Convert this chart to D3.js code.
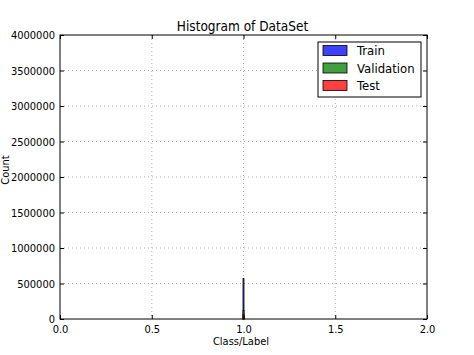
<!DOCTYPE html>
<html>
<head>
    <meta charset="utf-8">
    <title>Histogram of DataSet</title>
    <script src="https://d3js.org/d3.v7.min.js"></script>
    <style type="text/css">
        body { margin: 0; background: #fff; }
        text { font-family: "DejaVu Sans Condensed", "DejaVu Sans", sans-serif; fill: #000; }
        .grid line { stroke: #b0b0b0; stroke-dasharray: 1,3; }
    </style>
</head>
<body>
    <script type="text/javascript">
        // data
        let classes = [1.0];
        let trainCounts = [570000];
        let validationCounts = [120000];
        let testCounts = [60000];
        let xTicks = [0.0, 0.5, 1.0, 1.5, 2.0];
        let yTicks = [0, 500000, 1000000, 1500000, 2000000, 2500000, 3000000, 3500000, 4000000];
        let seriesNames = ["Train", "Validation", "Test"];
        let seriesColors = ["#4040ff", "#409f40", "#ff4040"];

        let W = 474, H = 355;
        let mLeft = 60, mRight = 427, mTop = 35, mBottom = 319;

        let svg = d3.select("body").append("svg")
            .attr("width", W)
            .attr("height", H);

        let x = d3.scaleLinear().domain([0, 2]).range([mLeft, mRight]);
        let y = d3.scaleLinear().domain([0, 4000000]).range([mBottom, mTop]);

        // grid
        let grid = svg.append("g").attr("class", "grid");
        grid.selectAll(".gx").data(xTicks.slice(1, -1)).enter().append("line")
            .attr("x1", d => x(d)).attr("x2", d => x(d))
            .attr("y1", mTop).attr("y2", mBottom);
        grid.selectAll(".gy").data(yTicks.slice(1, -1)).enter().append("line")
            .attr("x1", mLeft).attr("x2", mRight)
            .attr("y1", d => y(d)).attr("y2", d => y(d));

        // bars (very narrow bins, overlapping)
        let series = [trainCounts, validationCounts, testCounts];
        series.forEach((vals, i) => {
            svg.append("g").selectAll("rect").data(vals).enter().append("rect")
                .attr("x", (d, j) => x(classes[j]) - 0.5)
                .attr("width", 1)
                .attr("y", d => y(d))
                .attr("height", d => mBottom - y(d))
                .attr("fill", seriesColors[i])
                .attr("stroke", "#000")
                .attr("stroke-width", 0.8);
        });

        // axes
        let xAxis = d3.axisBottom(x).tickValues(xTicks).tickFormat(d3.format(".1f")).tickSize(-4).tickPadding(6);
        let xAxisTop = d3.axisTop(x).tickValues(xTicks).tickFormat("").tickSize(-4);
        let yAxis = d3.axisLeft(y).tickValues(yTicks).tickFormat(d3.format("d")).tickSize(-4).tickPadding(5);
        let yAxisRight = d3.axisRight(y).tickValues(yTicks).tickFormat("").tickSize(-4);

        [
            svg.append("g").attr("transform", `translate(0,${mBottom})`).call(xAxis),
            svg.append("g").attr("transform", `translate(0,${mTop})`).call(xAxisTop),
            svg.append("g").attr("transform", `translate(${mLeft},0)`).call(yAxis),
            svg.append("g").attr("transform", `translate(${mRight},0)`).call(yAxisRight)
        ].forEach(g => {
            g.select(".domain").remove();
            g.selectAll("line").attr("stroke", "#000");
            g.selectAll("text").style("font-size", "11px");
        });

        svg.append("rect")
            .attr("x", mLeft).attr("y", mTop)
            .attr("width", mRight - mLeft).attr("height", mBottom - mTop)
            .attr("fill", "none").attr("stroke", "#000").attr("stroke-width", 1);

        // labels
        svg.append("text").attr("x", 242.5).attr("y", 31)
            .attr("text-anchor", "middle").style("font-size", "13.5px").text("Histogram of DataSet");
        svg.append("text").attr("x", 241).attr("y", 345)
            .attr("text-anchor", "middle").style("font-size", "11px").text("Class/Label");
        svg.append("text").attr("transform", "translate(9,170) rotate(-90)")
            .attr("text-anchor", "middle").style("font-size", "11px").text("Count");

        // legend
        let lg = svg.append("g").attr("transform", "translate(318,42)");
        lg.append("rect").attr("width", 103).attr("height", 55)
            .attr("fill", "#fff").attr("stroke", "#000").attr("stroke-width", 1);
        seriesNames.forEach((name, i) => {
            lg.append("rect").attr("x", 5).attr("y", 3.5 + i * 17.5)
                .attr("width", 24).attr("height", 10)
                .attr("fill", seriesColors[i])
                .attr("stroke", "#000").attr("stroke-width", 0.8);
            lg.append("text").attr("x", 39).attr("y", 13 + i * 17.5)
                .style("font-size", "13px").text(name);
        });
    </script>
</body>
</html>
